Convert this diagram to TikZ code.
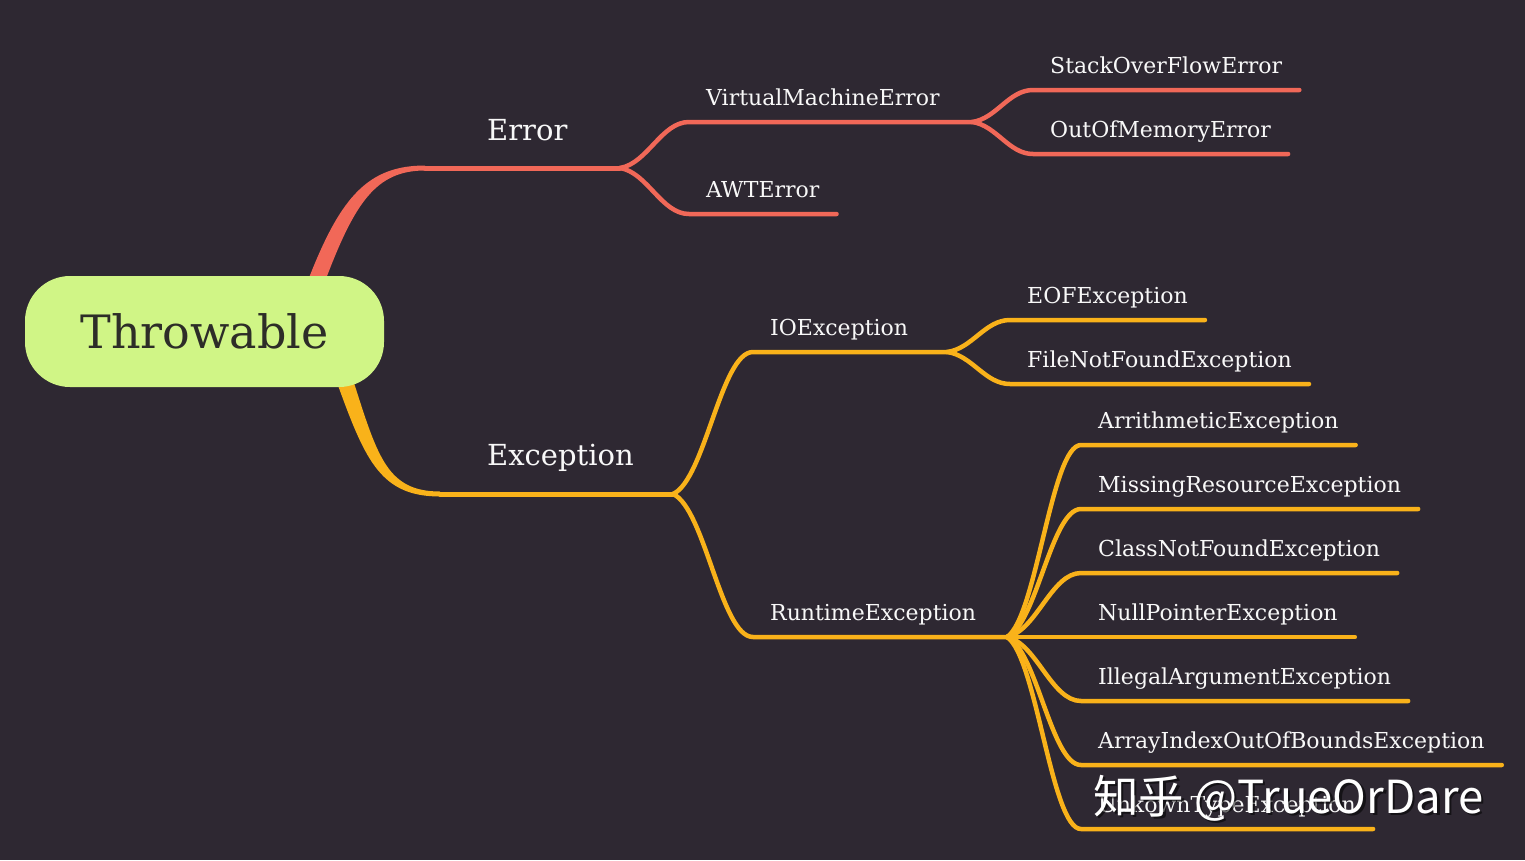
\documentclass[tikz,border=0pt]{standalone}
\usepackage{fontspec}
\setmainfont{DejaVu Serif}
\newfontfamily\wmfont{Noto Sans CJK SC}
\usetikzlibrary{calc}
\pgfdeclarelayer{bglayer}
\pgfdeclarelayer{connlayer}
\pgfsetlayers{bglayer,connlayer,main}
\definecolor{bgc}{RGB}{46,40,50}
\definecolor{rootc}{RGB}{208,245,134}
\definecolor{redc}{RGB}{241,104,88}
\definecolor{orac}{RGB}{249,178,26}
\definecolor{txtc}{RGB}{248,248,248}
\definecolor{roottxt}{RGB}{45,45,40}
\tikzset{
  rootbox/.style={fill=rootc, rounded corners=45pt, minimum width=359pt, minimum height=111pt, inner sep=0pt, text=roottxt, font=\fontsize{46}{50}\selectfont},
  biglbl/.style={anchor=base west, inner sep=0pt, text=txtc, font=\fontsize{29}{32}\selectfont},
  lbl/.style={anchor=south west, inner xsep=17pt, inner ysep=16pt, text depth=0pt, text=txtc, font=\fontsize{22}{26}\selectfont},
  wire/.style={line width=4.5pt, line cap=round, line join=round},
  redw/.style={wire, draw=redc},
  oraw/.style={wire, draw=orac},
  wmark/.style={anchor=base west, inner sep=0pt, font=\wmfont\fontsize{45.5}{50}\selectfont},
}
\newcommand\mmbranch[3]{%
  \draw[#1] let \p1=(#2), \p2=(#3.south west) in (\p1) .. controls ({\x1+0.4*(\x2-\x1)},{\y1+0.1*(\y2-\y1)}) and ({\x1+0.6*(\x2-\x1)},{\y2}) .. (\p2) -- (#3.south east);}
\newcommand\mmbranchto[4]{%
  \draw[#1] let \p1=(#2), \p2=(#3.south west) in (\p1) .. controls ({\x1+0.4*(\x2-\x1)},{\y1+0.1*(\y2-\y1)}) and ({\x1+0.6*(\x2-\x1)},{\y2}) .. (\p2) -- (#4);}
\begin{document}
\begin{tikzpicture}[x=1pt,y=-1pt]
\begin{pgfonlayer}{bglayer}
\fill[bgc] (0,0) rectangle (1525,860);
\end{pgfonlayer}
\useasboundingbox (0,0) rectangle (1525,860);

% root
\node[rootbox] (root) at (204.5,331.5) {Throwable};

% level 1
\node[biglbl] (error) at (487,140) {Error};
\node[biglbl] (exception) at (487,465) {Exception};
\coordinate (errend) at (425,168);
\coordinate (errfork) at (620,168);
\coordinate (excend) at (440,494);
\coordinate (excfork) at (673,494);

% level 2
\node[lbl] (vme) at (689,122) {VirtualMachineError};
\node[lbl] (awt) at (689,214) {AWTError};
\node[lbl] (ioe) at (753,352) {IOException};
\node[lbl] (rte) at (753,637) {RuntimeException};
\coordinate (vmefork) at (972,122);
\coordinate (ioefork) at (947,352);
\coordinate (rtefork) at (1007,637);

% level 3
\node[lbl] (soe) at (1033,90) {StackOverFlowError};
\node[lbl] (oom) at (1033,154) {OutOfMemoryError};
\node[lbl] (eof) at (1010,320) {EOFException};
\node[lbl] (fnf) at (1010,384) {FileNotFoundException};
\node[lbl] (ari) at (1081,445) {ArrithmeticException};
\node[lbl] (mre) at (1081,509) {MissingResourceException};
\node[lbl] (cnf) at (1081,573) {ClassNotFoundException};
\node[lbl] (npe) at (1081,637) {NullPointerException};
\node[lbl] (iae) at (1081,701) {IllegalArgumentException};
\node[lbl] (aio) at (1081,765) {ArrayIndexOutOfBoundsException};
\node[lbl] (ute) at (1081,829) {UnkownTypeException};

\begin{pgfonlayer}{connlayer}
% tapered main branches
\fill[redc] (320,294) -- (325.5,280) .. controls (355,202.4) and (376,170.5) .. (425,170.5) -- (425,165.5) .. controls (368,165.5) and (341,197.6) .. (310.5,274) -- (305,288) -- cycle;
\fill[orac] (349.5,370.5) -- (354.5,384.5) .. controls (378,458) and (388,491.5) .. (440,491.5) -- (440,496.5) .. controls (382,496.5) and (366,462) .. (339.5,389.5) -- (334.5,375.5) -- cycle;
\draw[redw, line width=5pt] (errend) -- (errfork);
\draw[oraw, line width=5pt] (excend) -- (excfork);
% level 2
\mmbranchto{redw}{errfork}{vme}{vmefork}
\mmbranch{redw}{errfork}{awt}
\mmbranchto{oraw}{excfork}{ioe}{ioefork}
\mmbranchto{oraw}{excfork}{rte}{rtefork}
% level 3
\mmbranch{redw}{vmefork}{soe}
\mmbranch{redw}{vmefork}{oom}
\mmbranch{oraw}{ioefork}{eof}
\mmbranch{oraw}{ioefork}{fnf}
\foreach \lf in {ari,mre,cnf,npe,iae,aio,ute}{\mmbranch{oraw}{rtefork}{\lf}}
\end{pgfonlayer}

% watermark
\node[wmark, text=black, opacity=0.55] (wmshadow) at (1095.5,815.5) {知乎 @TrueOrDare};
\node[wmark, text=white] (wm) at (1093,813) {知乎 @TrueOrDare};
\end{tikzpicture}
\end{document}
